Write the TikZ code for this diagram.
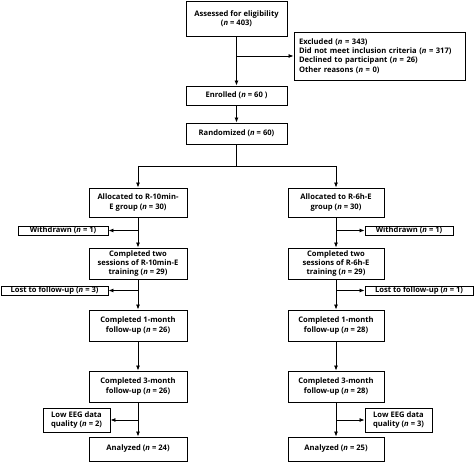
\documentclass[tikz,border=0pt]{standalone}
\usepackage{fontspec}
\setmainfont{Open Sans}
\usetikzlibrary{arrows.meta,positioning}
\tikzset{
  box/.style={draw, line width=0.9pt, align=center, inner xsep=1pt, inner ysep=0.5pt,
    font=\bfseries\fontsize{7.6}{9.3}\selectfont},
  side/.style={box, align=left},
  flow/.style={line width=0.8pt, -{Latex[length=5pt,width=4pt]}},
  link/.style={line width=0.8pt},
}
\newcommand{\nval}[1]{(\textit{n} = #1)}

\begin{document}
\begin{tikzpicture}[x=1pt,y=-1pt]
        \useasboundingbox (0,0) rectangle (474,462);
        % main trunk
        \node[box, minimum width=101pt, minimum height=35pt] (assess) at (236.5,18.5) {Assessed for eligibility\\\nval{403}};
        \node[side, minimum width=171pt, minimum height=48pt, text width=161pt, inner xsep=5pt] (excl) at (379.5,56) {Excluded \nval{343}\\Did not meet inclusion criteria \nval{317}\\Declined to participant \nval{26}\\Other reasons \nval{0}};
        \node[box, minimum width=101pt, minimum height=19pt] (enrol) at (236.5,95.5) {Enrolled \nval{60 }};
        \node[box, minimum width=101pt, minimum height=21pt] (rand) at (236.5,133.5) {Randomized \nval{60}};
        \coordinate (split) at (236.5,166);
        % left arm
        \node[box, minimum width=98pt, minimum height=29pt] (allocL) at (138,202.5) {Allocated to R-10min-\\E group \nval{30}};
        \node[box, minimum width=90pt, minimum height=9pt] (withL) at (63,230.5) {Withdrawn \nval{1}};
        \node[box, minimum width=98pt, minimum height=31pt] (sessL) at (138,263.5) {Completed two\\sessions of R-10min-E\\training \nval{29}};
        \node[box, minimum width=107pt, minimum height=9pt] (lostL) at (54.5,290.5) {Lost to follow-up \nval{3}};
        \node[box, minimum width=98pt, minimum height=31pt] (monL) at (138,325.5) {Completed 1-month\\follow-up \nval{26}};
        \node[box, minimum width=98pt, minimum height=31pt] (thrL) at (138,386.5) {Completed 3-month\\follow-up \nval{26}};
        \node[box, minimum width=67pt, minimum height=24pt] (lowL) at (76.5,420) {Low EEG data\\quality \nval{2}};
        \node[box, minimum width=98pt, minimum height=24pt] (anaL) at (138,449) {Analyzed \nval{24}};
        % right arm
        \node[box, minimum width=96pt, minimum height=29pt] (allocR) at (336,202.5) {Allocated to R-6h-E\\group \nval{30}};
        \node[box, minimum width=88pt, minimum height=9pt] (withR) at (409,230.5) {Withdrawn \nval{1}};
        \node[box, minimum width=96pt, minimum height=31pt] (sessR) at (336,263.5) {Completed two\\sessions of R-6h-E\\training \nval{29}};
        \node[box, minimum width=108pt, minimum height=9pt] (lostR) at (419,290.5) {Lost to follow-up \nval{1}};
        \node[box, minimum width=96pt, minimum height=31pt] (monR) at (336,325.5) {Completed 1-month\\follow-up \nval{28}};
        \node[box, minimum width=96pt, minimum height=31pt] (thrR) at (336,386.5) {Completed 3-month\\follow-up \nval{28}};
        \node[box, minimum width=67pt, minimum height=24pt] (lowR) at (398.5,420) {Low EEG data\\quality \nval{3}};
        \node[box, minimum width=96pt, minimum height=24pt] (anaR) at (336,449) {Analyzed \nval{25}};
        % connectors
        \draw[flow] (assess) -- (enrol);
        \draw[flow] (assess.south |- excl.west) -- (excl.west);
        \draw[flow] (enrol) -- (rand);
        \draw[link] (rand.south) -- (split);
        \draw[link] (allocL.north |- split) -- (allocR.north |- split);
        \draw[flow] (allocL.north |- split) -- (allocL.north);
        \draw[flow] (allocR.north |- split) -- (allocR.north);
        \foreach \s in {L,R} {
          \draw[flow] (alloc\s) -- (sess\s);
          \draw[flow] (sess\s) -- (mon\s);
          \draw[flow] (mon\s) -- (thr\s);
          \draw[flow] (thr\s) -- (ana\s);
        }
        \draw[flow] (allocL.south |- withL.east) -- (withL.east);
        \draw[flow] (sessL.south |- lostL.east) -- (lostL.east);
        \draw[flow] (thrL.south |- lowL.east) -- (lowL.east);
        \draw[flow] (allocR.south |- withR.west) -- (withR.west);
        \draw[flow] (sessR.south |- lostR.west) -- (lostR.west);
        \draw[flow] (thrR.south |- lowR.west) -- (lowR.west);
    \end{tikzpicture}
\end{document}
